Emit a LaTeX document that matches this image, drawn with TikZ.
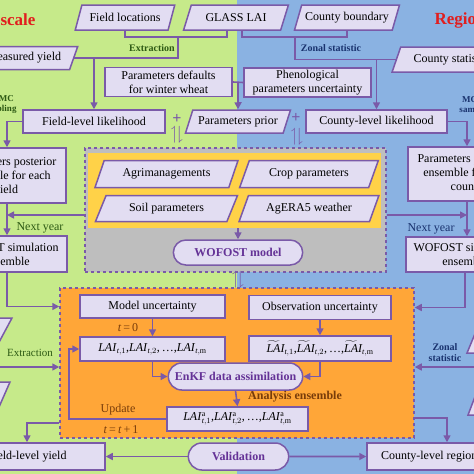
\documentclass[tikz,border=0pt]{standalone}
\usepackage{fontspec}
\setmainfont{Liberation Serif}
\usepackage{amsmath}
\usepackage{amssymb}
\usetikzlibrary{positioning,shapes.geometric,shapes.misc,arrows.meta}
\definecolor{fieldbg}{RGB}{198,234,138}
\definecolor{regionbg}{RGB}{138,178,226}
\definecolor{boxfill}{RGB}{226,221,242}
\definecolor{boxline}{RGB}{122,90,168}
\definecolor{modelgray}{RGB}{190,190,190}
\definecolor{inputyellow}{RGB}{255,210,72}
\definecolor{enkforange}{RGB}{255,166,56}
\definecolor{fieldtext}{RGB}{45,90,20}
\definecolor{regiontext}{RGB}{25,50,110}
\definecolor{loopbrown}{RGB}{120,60,10}
\definecolor{titlered}{RGB}{225,30,30}
\definecolor{modeltext}{RGB}{100,50,150}
\newcommand{\harp}{$\boldsymbol{\upharpoonleft\!\downharpoonright}$}
\newcommand{\lai}{\textit{LAI}}

\begin{document}
\begin{tikzpicture}
		[x=1pt,y=-1pt,font=\fontsize{12}{14}\selectfont,
		box/.style={rectangle,draw=boxline,fill=boxfill,line width=1.5pt,align=center,inner sep=2pt},
		datain/.style={trapezium,trapezium left angle=65,trapezium right angle=115,trapezium stretches=true,draw=boxline,fill=boxfill,line width=1.5pt,inner sep=2pt},
		proc/.style={rounded rectangle,draw=boxline,fill=boxfill,line width=1.5pt,font=\fontsize{12}{14}\selectfont\bfseries,text=modeltext},
		frame/.style={draw=boxline,dashed,line width=1.5pt},
		flow/.style={draw=boxline,line width=1.6pt},
		arrow/.style={flow,-{Triangle[length=7pt,width=7pt]}},
		fieldlab/.style={text=fieldtext,font=\fontsize{10}{11}\selectfont\bfseries,align=center},
		regionlab/.style={text=regiontext,font=\fontsize{10}{11}\selectfont\bfseries,align=center},
		looplab/.style={text=loopbrown,font=\fontsize{12}{14}\selectfont},
		sign/.style={text=boxline,font=\fontsize{16}{16}\selectfont\bfseries},
		harpoon/.style={text=boxline,font=\fontsize{19}{19}\selectfont,inner sep=0pt},
		title/.style={anchor=west,text=titlered,font=\fontsize{17}{19}\selectfont\bfseries}]
		% draw the two backgrounds
		\fill[fieldbg] (0,0) rectangle (237,474);
		\fill[regionbg] (237,0) rectangle (474,474);
		\useasboundingbox (0,0) rectangle (474,474);
		\node[title] (ftitle) at (-3,20) {scale};
		\node[title] (rtitle) at (431,20) {Region};

		% draw the input data
		\node[datain,minimum width=100,minimum height=25] (floc) at (125,17.5) {Field locations};
		\node[datain,minimum width=105,minimum height=25] (glass) at (236,17.5) {GLASS LAI};
		\node[datain,minimum width=105,minimum height=25] (cbound) at (347,17.5) {County boundary};
		\node[datain,minimum width=108,minimum height=23] (myield) at (24,58) {Measured yield};
		\node[datain,minimum width=118,minimum height=25] (cstat) at (451,59.5) {County statistic};
		\coordinate (extr) at (178,37);
		\coordinate (zonal) at (295,37);
		\draw[flow] (floc.south) |- (extr) -| ([xshift=-9pt]glass.south);
		\draw[flow] ([xshift=6pt]glass.south) |- (zonal) -| (cbound.south);
		\draw[flow] (extr) |- (myield.east);
		\draw[flow] (zonal) |- (cstat.west);
		\node[fieldlab] (extlab) at (152,48) {Extraction};
		\node[regionlab] (zonlab) at (331,48) {Zonal statistic};

		% draw the parameters and likelihoods
		\node[box,minimum width=127,minimum height=29] (pdef) at (168.5,82) {Parameters defaults\\for winter wheat};
		\node[box,minimum width=127,minimum height=28] (phen) at (307.5,82.5) {Phenological\\parameters uncertainty};
		\node[box,minimum width=142,minimum height=23] (flik) at (94,121.5) {Field-level likelihood};
		\node[datain,minimum width=106,minimum height=23] (pprior) at (238,121.5) {Parameters prior};
		\node[box,minimum width=141,minimum height=23] (clik) at (376.5,121.5) {County-level likelihood};
		\node[sign] (plusl) at (177,119) {+};
		\node[sign] (plusr) at (296,118) {+};
		\node[harpoon] (eql) at (177,135) {\harp};
		\node[harpoon] (eqr) at (297,137) {\harp};
		\coordinate (pjoin) at (238,82);
		\draw[flow] (pdef.east) -- (phen.west);
		\draw[arrow] (pjoin) -- (pprior.north);
		\draw[arrow] (myield.east) -| (flik.north);
		\draw[arrow] (cstat.west) -| (clik.north);
		\node[text=fieldtext,font=\fontsize{9}{10}\selectfont\bfseries,align=center] (mcl) at (-1,105) {MCMC\\sampling};
		\node[text=regiontext,font=\fontsize{9}{10}\selectfont\bfseries,align=center] (mcr) at (477,106) {MCMC\\sampling};

		% draw the posterior and simulation ensembles
		\node[box,minimum width=118,minimum height=55] (fpost) at (7,175.5) {Parameters posterior\\ensemble for each\\field};
		\node[box,minimum width=118,minimum height=54] (cpost) at (467,174) {Parameters posterior\\ensemble for each\\county};
		\node[box,minimum width=120,minimum height=36] (fwof) at (7,254) {WOFOST simulation\\ensemble};
		\node[box,minimum width=118,minimum height=35] (cwof) at (465,254.5) {WOFOST simulation\\ensemble};
		\draw[arrow] (flik.west) -| (fpost.north);
		\draw[arrow] (clik.east) -| (cpost.north);
		\draw[arrow] (fpost.south) -- (fwof.north -| fpost.south);
		\draw[arrow] (cpost.south) -- (cwof.north -| cpost.south);
		\node[text=fieldtext] (fnext) at (40,228) {Next year};
		\node[text=regiontext] (rnext) at (431,229) {Next year};

		% draw the crop model
		\node[fill=modelgray,frame,minimum width=301,minimum height=124] (wofbox) at (235.5,210) {};
		\node[fill=inputyellow,minimum width=293,minimum height=75] (inbox) at (234.5,190.5) {};
		\node[datain,minimum width=143,minimum height=27] (agri) at (166.5,174) {Agrimanagements};
		\node[datain,minimum width=140,minimum height=27] (crop) at (309,174) {Crop parameters};
		\node[datain,minimum width=143,minimum height=26] (soil) at (166.5,208.5) {Soil parameters};
		\node[datain,minimum width=140,minimum height=26] (weather) at (309,208.5) {AgERA5 weather};
		\node[proc,minimum width=136,minimum height=25] (wofmod) at (238,252.5) {WOFOST model};
		\draw[arrow] (wofmod.north |- inbox.south) -- (wofmod.north);
		\draw[arrow] ([yshift=-5pt]wofbox.west) -- ([yshift=-5pt]wofbox.west -| fpost.south);
		\draw[arrow] ([yshift=-5pt]wofbox.east) -- ([yshift=-5pt]wofbox.east -| cpost.south);
		\node[harpoon] (eqm) at (238,280) {\harp};

		% draw the data assimilation
		\node[fill=enkforange,frame,minimum width=354,minimum height=150] (enkfbox) at (237,363) {};
		\node[box,minimum width=145,minimum height=23] (muncert) at (152.5,306.5) {Model uncertainty};
		\node[box,minimum width=142,minimum height=24] (ouncert) at (320,307.5) {Observation uncertainty};
		\node[box,minimum width=145,minimum height=24] (lai) at (152.5,349) {\lai$_{\text{\itshape t},1}$,\lai$_{\text{\itshape t},2}$,\,\dots,\lai$_{\text{\itshape t},\text{m}}$};
		\node[box,minimum width=142,minimum height=25] (laio) at (320,348.5) {$\widetilde{\text{\itshape LA}}\text{\itshape I}_{\text{\itshape t},1}$,$\widetilde{\text{\itshape LA}}\text{\itshape I}_{\text{\itshape t},2}$,\,\dots,$\widetilde{\text{\itshape LA}}\text{\itshape I}_{\text{\itshape t},\text{m}}$};
		\node[proc,minimum width=141,minimum height=27] (enkf) at (235.5,376.5) {EnKF data assimilation};
		\node[box,minimum width=141,minimum height=24] (laia) at (237.5,419) {\lai$^{\text{a}}_{\text{\itshape t},1}$,\lai$^{\text{a}}_{\text{\itshape t},2}$,\,\dots,\lai$^{\text{a}}_{\text{\itshape t},\text{m}}$};
		\draw[arrow] (fwof.south) |- (muncert -| enkfbox.west);
		\draw[arrow] (cwof.south) |- (ouncert -| enkfbox.east);
		\draw[arrow] (muncert) -- (lai);
		\draw[arrow] (ouncert) -- (laio);
		\draw[arrow] (lai.south) |- (enkf.west);
		\draw[arrow] (laio.south) |- (enkf.east);
		\draw[arrow] (enkf.south) -- (laia.north);
		\draw[arrow] (laia.west) -| ([xshift=-10pt]lai.south west) |- (lai.west);
		\node[looplab] (tzero) at (128,328) {\textit{t}\,=\,0};
		\node[looplab,font=\fontsize{12}{14}\selectfont\bfseries] (anlab) at (295,397) {Analysis ensemble};
		\node[looplab] (updlab) at (118,410) {Update};
		\node[looplab] (tnext) at (121,430) {\textit{t}\,=\,\textit{t}\,+\,1};

		% draw the remote sensing inputs at the sides
		\node[datain,minimum width=60,minimum height=27] (lefta) at (-18,331.5) {};
		\node[datain,minimum width=60,minimum height=33] (leftb) at (-20,398.5) {};
		\node[datain,minimum width=60,minimum height=35] (righta) at (497,335.5) {};
		\node[datain,minimum width=60,minimum height=38] (rightb) at (498,396) {};
		\coordinate (lext) at (-5,367);
		\coordinate (rzon) at (480,367);
		\draw[arrow] (lext) -- (lext -| enkfbox.west);
		\draw[arrow] (rzon) -- (rzon -| enkfbox.east);
		\node[fieldlab,font=\fontsize{11}{12}\selectfont] (extlab2) at (30,353) {Extraction};
		\node[regionlab] (zonlab2) at (445,353) {Zonal\\statistic};

		% draw the yields and validation
		\node[box,minimum width=156,minimum height=27] (fyield) at (27,456.5) {Field-level yield};
		\node[proc,minimum width=107,minimum height=27] (valid) at (238.5,456.5) {Validation};
		\node[box,minimum width=160,minimum height=27] (cyield) at (447,456.5) {County-level regional yield};
		\draw[arrow] ([yshift=16pt]enkfbox.south west) -| (fyield.north);
		\draw[arrow] ([yshift=21pt]enkfbox.south east) -| (cyield.north);
		\draw[arrow] (valid) -- (fyield);
		\draw[arrow] (valid) -- (cyield);
	\end{tikzpicture}
\end{document}
